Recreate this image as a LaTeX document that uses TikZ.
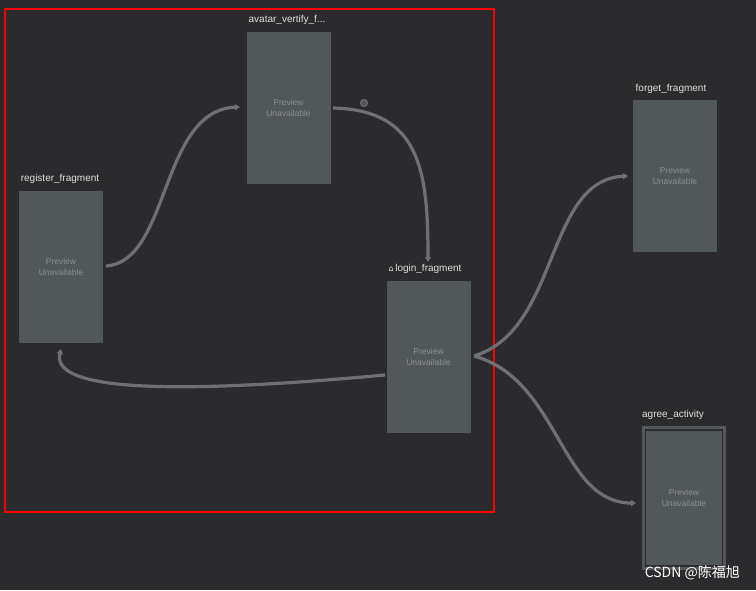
\documentclass[tikz,border=0pt]{standalone}
\usepackage{fontspec}
\setmainfont{Liberation Sans}
\newfontfamily\cjk{Noto Sans CJK SC}
\newfontfamily\dv{DejaVu Sans}
\usetikzlibrary{arrows.meta}
\definecolor{bg}{RGB}{43,43,45}
\definecolor{boxc}{RGB}{82,87,89}
\definecolor{linec}{RGB}{110,112,114}
\definecolor{txt}{RGB}{140,144,146}
\tikzset{
 x=1pt,y=-1pt,
 scr/.style={fill=boxc,draw=none,minimum width=84pt,minimum height=152pt,inner sep=0pt,
   font=\fontsize{8.5}{10.5}\selectfont,text=txt,align=center},
 lab/.style={font=\fontsize{10}{12}\selectfont,text=white!88!black,inner sep=0pt},
 conn/.style={draw=linec,line width=3.2pt,-{Triangle[length=5pt,width=6pt]}}
}
\begin{document}
\begin{tikzpicture}
\fill[bg] (0,0) rectangle (756,590);
\useasboundingbox (0,0) rectangle (756,590);
\draw[red,line width=2pt] (5,9) rectangle (494,512);
\node[scr] (avatar) at (288.5,108) {Preview\\Unavailable};
\node[scr] (register) at (61,267) {Preview\\Unavailable};
\node[scr] (login) at (428.5,357) {Preview\\Unavailable};
\node[scr] (forget) at (675,176) {Preview\\Unavailable};
\node[draw=boxc,line width=3pt,fill=bg,minimum width=81pt,minimum height=141pt,inner sep=0pt] (agreeo) at (684,498) {};
\node[scr,minimum width=76pt,minimum height=134pt] (agree) at (684,498) {Preview\\Unavailable};
\node[lab] (l1) at (287,20) {avatar\_vertify\_f...};
\node[lab] (l2) at (60,179) {register\_fragment};
\node[lab] (l3) at (425,269) {{\dv\fontsize{8}{9}\selectfont\char"2302}\,login\_fragment};
\node[lab] (l4) at (671,89) {forget\_fragment};
\node[lab] (l5) at (673,415) {agree\_activity};
\node[draw=linec,fill=linec!60!bg,circle,minimum size=7pt,inner sep=0pt,line width=1pt] (dot) at (364,103) {};
\coordinate (r1) at (106,266);
\coordinate (a1) at (240,107);
\coordinate (a2) at (333,108);
\coordinate (lg1) at (428,262);
\coordinate (lg2) at (385,375);
\coordinate (r2) at (61,349);
\coordinate (lg3) at (474,356);
\coordinate (f1) at (628,176);
\coordinate (ag1) at (636,503);
\draw[conn] (r1) .. controls (170,262) and (160,110) .. (a1);
\draw[conn] (a2) .. controls (420,110) and (428,170) .. (lg1);
\draw[conn] (lg2) .. controls (200,392) and (50,395) .. (r2);
\draw[conn] (lg3) .. controls (560,330) and (545,180) .. (f1);
\draw[conn] (lg3) .. controls (560,380) and (560,503) .. (ag1);
\node[font=\cjk\fontsize{14}{16}\selectfont,text=white,anchor=east,inner sep=0pt] (wm) at (740,573) {CSDN @陈福旭};
\end{tikzpicture}
\end{document}
